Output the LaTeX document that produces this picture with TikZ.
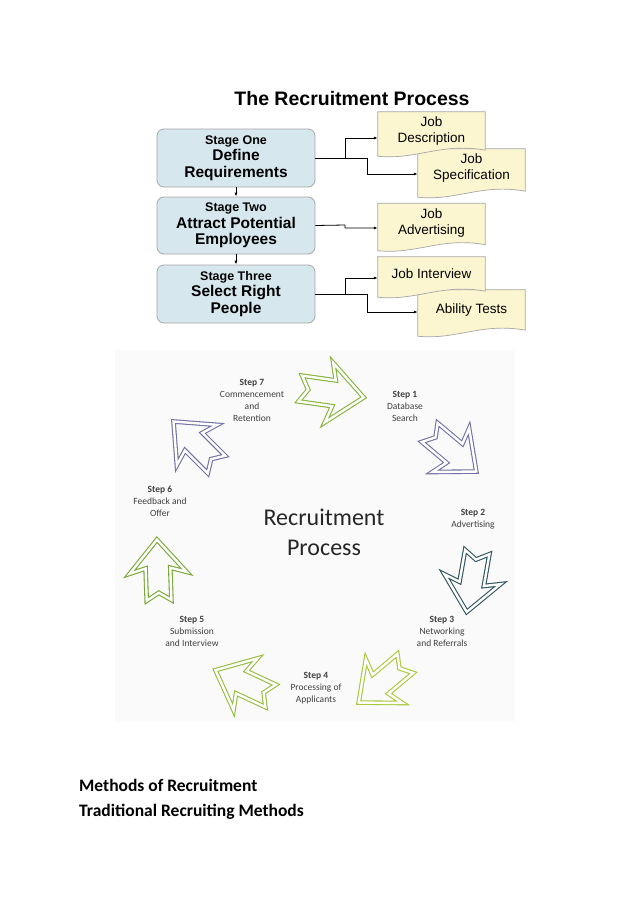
\documentclass[tikz,border=0pt]{standalone}
\usepackage{fontspec}
\setmainfont{Carlito}
\newfontfamily\arialf{Liberation Sans}
\usetikzlibrary{calc,arrows.meta}
\definecolor{stagefill}{HTML}{D6E8EE}
\definecolor{docfill}{HTML}{FBF6CF}
\definecolor{gA}{HTML}{86B43A}
\definecolor{pA}{HTML}{7272A8}
\definecolor{tA}{HTML}{2F5560}
\definecolor{yA}{HTML}{A9C93A}
\definecolor{gB}{HTML}{96BE3E}
\definecolor{gC}{HTML}{78A836}
\tikzset{
 stage/.style={draw=gray!70,fill=stagefill,rounded corners=7pt,minimum width=158pt,line width=0.8pt,align=center,inner sep=1pt,font=\arialf\bfseries\fontsize{15.5}{16.5}\selectfont},
 doc/.style={minimum width=107pt,inner sep=0pt,align=center,font=\arialf\fontsize{13.5}{16}\selectfont},
 docline/.style={draw=gray!70,fill=docfill,line width=0.7pt},
 conn/.style={draw=black,line width=0.8pt,-{Latex[length=4pt,width=3pt]}},
 blk/.style={line width=1.1pt,double=white,double distance=2.4pt},
 steplbl/.style={align=center,font=\fontsize{9.5}{12}\selectfont,text=black!75},
}
\newcommand{\docsh}[1]{%
 \path[docline] (#1.north west) -- (#1.north east) -- ($(#1.south east)+(0,-4)$)
 .. controls ($(#1.south)+(10,-12)$) and ($(#1.south)+(-15,6)$) .. ($(#1.south west)+(0,2)$) -- cycle;}
\newcommand{\blkarrow}[4]{% center, angle, color, scale
 \begin{scope}[shift={(#1)},rotate=#2,scale=#4]
 \draw[blk,#3] (-32,-13) -- (2,-13) -- (-3,-30) -- (32,0) -- (-3,30) -- (2,13) -- (-32,13) -- (-24,0) -- cycle;
 \end{scope}}
\begin{document}
\begin{tikzpicture}[x=1pt,y=-1pt]
\useasboundingbox[fill=white] (0,0) rectangle (638,902);
% top diagram
\node[font=\arialf\bfseries\fontsize{19.5}{22}\selectfont] (title) at (352,99) {The Recruitment Process};
\node[stage,minimum height=58pt] (s1) at (236,158) {{\fontsize{12.5}{15}\selectfont Stage One}\\Define\\Requirements};
\node[stage,minimum height=57pt] (s2) at (236,225.5) {{\fontsize{12.5}{15}\selectfont Stage Two}\\Attract Potential\\Employees};
\node[stage,minimum height=58pt] (s3) at (236,294) {{\fontsize{12.5}{15}\selectfont Stage Three}\\Select Right\\People};
\draw[conn] (s1) -- (s2);
\draw[conn] (s2) -- (s3);
\node[doc,minimum height=46pt] (d2) at (471.5,172) {};
\docsh{d2}\node[doc] at ($(d2)+(0,-4)$) {Job\\Specification};
\node[doc,minimum height=42pt] (d1) at (431.5,133) {};
\docsh{d1}\node[doc] at ($(d1)+(0,-2)$) {Job\\Description};
\node[doc,minimum height=45pt] (d3) at (431.5,226) {};
\docsh{d3}\node[doc] at ($(d3)+(0,-3)$) {Job\\Advertising};
\node[doc,minimum height=44pt] (d5) at (471.5,312) {};
\docsh{d5}\node[doc] at ($(d5)+(0,-2)$) {Ability Tests};
\node[doc,minimum height=38pt] (d4) at (431.5,276) {};
\docsh{d4}\node[doc] at ($(d4)+(0,-2)$) {Job Interview};
\coordinate (j1) at (345,158);\coordinate (j2) at (367,158);
\coordinate (j3) at (345,294);\coordinate (j4) at (367,294);
\draw[conn] (s1.east) -- (j1) |- (d1.west|-0,138);
\draw[conn] (j1) -- (j2) |- (d2.west|-0,174);
\draw[conn] (s2.east) -- (345,225) |- (d3.west|-0,228);
\draw[conn] (s3.east) -- (j3) |- (d4.west|-0,278);
\draw[conn] (j3) -- (j4) |- (d5.west|-0,312);
% bottom diagram
\fill[black!2] (115,350) rectangle (515,721);
\node[font=\fontsize{24}{30}\selectfont,align=center,text=black!85] (rp) at (324,532) {Recruitment\\Process};
\coordinate (a1) at (332,393);\blkarrow{a1}{-8}{gA}{1}
\coordinate (a2) at (453,452);\blkarrow{a2}{-40}{pA}{0.95}
\coordinate (a3) at (472,582);\blkarrow{a3}{-100}{tA}{0.95}
\coordinate (a4) at (382,683);\blkarrow{a4}{-140}{yA}{0.95}
\coordinate (a5) at (243,683);\blkarrow{a5}{-205}{gB}{0.95}
\coordinate (a6) at (158,570);\blkarrow{a6}{92}{gC}{0.95}
\coordinate (a7) at (195,443);\blkarrow{a7}{135}{pA}{0.95}
\node[steplbl] (t7) at (252,400) {\textbf{Step 7}\\Commencement\\and\\Retention};
\node[steplbl] (t1) at (405,406) {\textbf{Step 1}\\Database\\Search};
\node[steplbl] (t2) at (473,519) {\textbf{Step 2}\\Advertising};
\node[steplbl] (t3) at (442,631) {\textbf{Step 3}\\Networking\\and Referrals};
\node[steplbl] (t4) at (316,688) {\textbf{Step 4}\\Processing of\\Applicants};
\node[steplbl] (t5) at (192,631) {\textbf{Step 5}\\Submission\\and Interview};
\node[steplbl] (t6) at (160,501) {\textbf{Step 6}\\Feedback and\\Offer};
% text
\node[anchor=west,font=\bfseries\fontsize{17.5}{20}\selectfont,inner sep=0pt] (m1) at (79,785) {Methods of Recruitment};
\node[anchor=west,font=\bfseries\fontsize{17.5}{20}\selectfont,inner sep=0pt] (m2) at (79,812) {Traditional Recruiting Methods};
\end{tikzpicture}
\end{document}
